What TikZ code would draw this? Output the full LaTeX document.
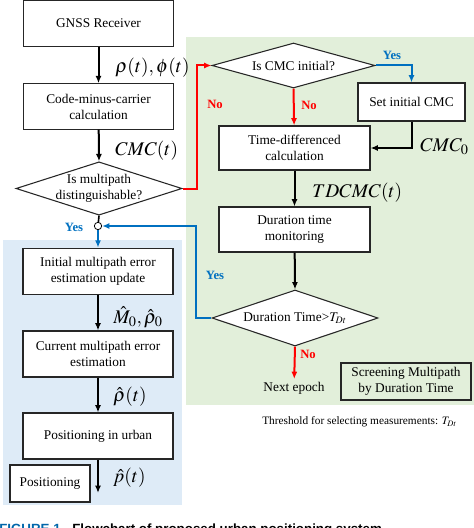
\documentclass[tikz,border=0pt]{standalone}
\usepackage{amsmath}
\usepackage{mathptmx}
\usepackage{fontspec}
\setmainfont{Liberation Serif}
\newfontfamily\legendefont{Liberation Sans}
\usetikzlibrary{shapes, arrows.meta, positioning, calc}

\definecolor{fondvert}{RGB}{226,239,218}
\definecolor{fondbleu}{RGB}{222,235,247}
\definecolor{bleuoui}{RGB}{0,112,192}
\definecolor{rougenon}{RGB}{255,0,0}
\definecolor{bleucap}{RGB}{0,102,170}

\tikzset{
  boite/.style={draw=black!85, line width=0.8pt, fill=white, align=center, inner sep=1pt},
  losange/.style={draw=black!85, line width=0.8pt, fill=white, diamond, inner sep=0pt},
  fleche/.style={line width=1.5pt, -{Latex[length=5.5pt,width=4.5pt]}},
  lbl/.style={font=\fontsize{14.5}{17}\selectfont, anchor=west, inner sep=0pt},
  txtoui/.style={font=\bfseries\fontsize{9.5}{11}\selectfont, text=bleuoui, inner sep=0pt},
  txtnon/.style={font=\bfseries\fontsize{9.5}{11}\selectfont, text=rougenon, inner sep=0pt},
}

\begin{document}
\begin{tikzpicture}[x=0.75pt, y=-0.75pt]
  \useasboundingbox (0,0) rectangle (474,528);
  % Fonds
  \fill[fondvert] (186,37) rectangle (474,405);
  \fill[fondbleu] (3,240) rectangle (182,505);

  % Colonne gauche
  \node[boite, minimum width=113pt, minimum height=34pt] (gnss) at (98.5,23.5) {GNSS Receiver};
  \node[boite, minimum width=113pt, minimum height=34pt] (cmc) at (98.5,106.5) {Code-minus-carrier\\calculation};
  \node[losange, minimum width=124.5pt, minimum height=40pt,
        label={[align=center, inner sep=0pt]center:Is multipath\\distinguishable?}] (multi) at (99,188.5) {};
  \node[circle, draw, fill=white, line width=0.6pt, minimum size=5.5pt, inner sep=0pt] (jonc) at (98,226) {};
  \node[boite, minimum width=112.5pt, minimum height=35pt] (initest) at (98,271.5) {Initial multipath error\\estimation update};
  \node[boite, minimum width=112.5pt, minimum height=34.5pt] (courant) at (98,354) {Current multipath error\\estimation};
  \node[boite, minimum width=112.5pt, minimum height=34.5pt] (urbain) at (98,436) {Positioning in urban};
  \node[boite, minimum width=60pt, minimum height=27.75pt] (posit) at (50,483.5) {Positioning};
  \coordinate (sortie) at (98,493);

  % Colonne droite
  \node[losange, minimum width=122.25pt, minimum height=33.75pt,
        label={[inner sep=0pt]center:Is CMC initial?}] (cmcinit) at (293.5,65.5) {};
  \node[boite, minimum width=80.25pt, minimum height=28.5pt] (setcmc) at (411.5,102) {Set initial CMC};
  \node[boite, minimum width=113.25pt, minimum height=33pt] (tdc) at (294.5,148) {Time-differenced\\calculation};
  \node[boite, minimum width=113.25pt, minimum height=33.75pt] (duree) at (294.5,229.5) {Duration time\\monitoring};
  \node[losange, minimum width=124.5pt, minimum height=42pt,
        label={[inner sep=0pt]center:Duration Time>$T_{Dt}$}] (seuildt) at (295,318) {};
  \node[inner sep=2pt] (suivant) at (294,388) {Next epoch};
  \node[draw=black!85, line width=0.8pt, align=center, inner sep=1pt, minimum width=97.5pt, minimum height=27.75pt] (ecran) at (406,381.5) {Screening Multipath\\by Duration Time};
  \node[anchor=west, inner sep=0pt, font=\fontsize{8.5}{10}\selectfont] (seuil) at (262,422) {Threshold for selecting measurements: $T_{Dt}$};

  % Fleches noires
  \draw[fleche] (gnss) -- (cmc);
  \draw[fleche] (cmc) -- (multi.north);
  \draw[line width=1.2pt] (multi.south) -- (jonc);
  \draw[fleche] (initest) -- (courant);
  \draw[fleche] (courant) -- (urbain);
  \draw[fleche] (urbain) -- (sortie);
  \draw[fleche] (setcmc.south) |- (tdc.east);
  \draw[fleche] (tdc) -- (duree);
  \draw[fleche] (duree) -- (seuildt.north);

  % Branches Yes / No
  \draw[fleche, draw=rougenon, rougenon] (multi.east) -- ++(14,0) |- (cmcinit.west);
  \draw[fleche, draw=rougenon, rougenon] (cmcinit.south) -- (tdc);
  \draw[fleche, draw=rougenon, rougenon] (seuildt.south) -- (suivant);
  \draw[fleche, draw=bleuoui, bleuoui] (cmcinit.east) -| (setcmc.north);
  \draw[fleche, draw=bleuoui, bleuoui] (jonc) -- (initest);
  \draw[fleche, draw=bleuoui, bleuoui] (seuildt.west) -- ++(-15,0) |- (jonc.east);

  % Etiquettes
  \node[lbl] (rhophi) at (115,68) {$\rho(t),\phi(t)$};
  \node[lbl] (cmct) at (115,151) {$CMC(t)$};
  \node[lbl] (cmczero) at (420,147) {$CMC_0$};
  \node[lbl] (tdcmc) at (312,193) {$TDCMC(t)$};
  \node[lbl] (mzero) at (113,317) {$\hat{M}_0,\hat{\rho}_0$};
  \node[lbl] (rhot) at (113,397) {$\hat{\rho}(t)$};
  \node[lbl] (pt) at (113,478) {$\hat{p}(t)$};
  \node[txtoui] (oui1) at (74,227) {Yes};
  \node[txtoui] (oui2) at (215,275) {Yes};
  \node[txtoui] (oui3) at (392,55) {Yes};
  \node[txtnon] (non1) at (215,104) {No};
  \node[txtnon] (non2) at (309,105) {No};
  \node[txtnon] (non3) at (308,354) {No};

  % Legende (coupee en bas)
  \node[anchor=base west, inner sep=0pt, text=bleucap, font=\legendefont\bfseries\fontsize{10}{12}\selectfont] (fig) at (-1,533.5) {FIGURE 1.};
  \node[anchor=base west, inner sep=0pt, font=\legendefont\bfseries\fontsize{10}{12}\selectfont] (titre) at (72,533.5) {Flowchart of proposed urban positioning system};
\end{tikzpicture}
\end{document}
